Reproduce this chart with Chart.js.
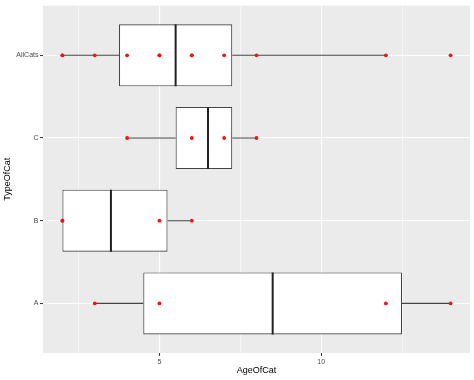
<!DOCTYPE html>
<html>
<head>
<meta charset="utf-8">
<script src="https://cdn.jsdelivr.net/npm/chart.js@4"></script>
<style>
  html, body { margin: 0; padding: 0; background: #ffffff; }
  canvas { display: block; }
</style>
</head>
<body>
<canvas id="c" width="474" height="380"></canvas>
<script>
// ---- data ----
const categories = ['A', 'B', 'C', 'AllCats'];          // bottom to top
const valuesA = [3, 5, 12, 14];
const valuesB = [2, 2, 5, 6];
const valuesC = [4, 6, 7, 8];
const valuesAll = [3, 5, 12, 14, 2, 2, 5, 6, 4, 6, 7, 8];
const xTicksMajor = [5, 10];
const xTicksMinor = [2.5, 7.5, 12.5];
const xMin = 1.4, xMax = 14.6;

const groups = [valuesA, valuesB, valuesC, valuesAll];

// ---- boxplot statistics (R type-7 quantiles, 1.5 IQR whiskers) ----
function quantile(sorted, p) {
  const h = (sorted.length - 1) * p;
  const lo = Math.floor(h), hi = Math.ceil(h);
  return sorted[lo] + (h - lo) * (sorted[hi] - sorted[lo]);
}
function stats(vals) {
  const s = vals.slice().sort((a, b) => a - b);
  const q1 = quantile(s, 0.25), med = quantile(s, 0.5), q3 = quantile(s, 0.75);
  const iqr = q3 - q1;
  const lo = Math.min(...s.filter(v => v >= q1 - 1.5 * iqr));
  const hi = Math.max(...s.filter(v => v <= q3 + 1.5 * iqr));
  return { q1, med, q3, lo, hi };
}
const st = groups.map(stats);
const halfBox = 0.375;

const boxData = st.map((s, i) => ({ x: [s.q1, s.q3], y: i + 1 }));
const medianData = [];
st.forEach((s, i) => {
  medianData.push({ x: s.med, y: i + 1 - halfBox }, { x: s.med, y: i + 1 + halfBox }, { x: null, y: null });
});
const whiskerData = [];
st.forEach((s, i) => {
  whiskerData.push({ x: s.lo, y: i + 1 }, { x: s.q1, y: i + 1 }, { x: null, y: null });
  whiskerData.push({ x: s.q3, y: i + 1 }, { x: s.hi, y: i + 1 }, { x: null, y: null });
});
const pointData = [];
groups.forEach((g, i) => g.forEach(v => pointData.push({ x: v, y: i + 1 })));

const panelBg = {
  id: 'panelBg',
  beforeDraw(chart) {
    const { ctx, chartArea: a } = chart;
    ctx.save();
    ctx.fillStyle = '#EBEBEB';
    ctx.fillRect(a.left, a.top, a.right - a.left, a.bottom - a.top);
    ctx.restore();
  }
};

const isMajorX = v => xTicksMajor.includes(v);

new Chart(document.getElementById('c'), {
  type: 'scatter',
  data: {
    datasets: [
      {
        type: 'scatter',
        data: pointData,
        backgroundColor: '#F01515',
        borderWidth: 0,
        pointRadius: 1.9,
        pointHoverRadius: 1.9,
        order: 0
      },
      {
        type: 'line',
        data: medianData,
        borderColor: '#222222',
        borderWidth: 2,
        pointRadius: 0,
        spanGaps: false,
        order: 1
      },
      {
        type: 'bar',
        indexAxis: 'y',
        data: boxData,
        backgroundColor: '#FFFFFF',
        borderColor: '#444444',
        borderWidth: 1.1,
        borderSkipped: false,
        categoryPercentage: 0.75,
        barPercentage: 1,
        order: 2
      },
      {
        type: 'line',
        data: whiskerData,
        borderColor: '#444444',
        borderWidth: 1.1,
        pointRadius: 0,
        spanGaps: false,
        order: 3
      }
    ]
  },
  options: {
    responsive: false,
    animation: false,
    events: [],
    layout: { padding: { top: 4, right: 4, left: 0, bottom: 0 } },
    plugins: { legend: { display: false }, tooltip: { enabled: false } },
    scales: {
      x: {
        type: 'linear',
        position: 'bottom',
        min: xMin,
        max: xMax,
        offset: false,
        afterBuildTicks(scale) {
          scale.ticks = xTicksMinor.concat(xTicksMajor).sort((a, b) => a - b).map(v => ({ value: v }));
        },
        afterFit(scale) { scale.height = 27; },
        ticks: {
          callback: v => (isMajorX(v) ? String(v) : ''),
          color: '#4D4D4D',
          font: { family: 'Liberation Sans', size: 7 },
          padding: 1.5,
          maxRotation: 0,
          autoSkip: false
        },
        grid: {
          offset: false,
          color: '#FFFFFF',
          lineWidth: ctx => (ctx.tick && isMajorX(ctx.tick.value) ? 1.1 : 0.55),
          tickColor: ctx => (ctx.tick && isMajorX(ctx.tick.value) ? '#333333' : 'rgba(0,0,0,0)'),
          tickLength: 3,
          tickWidth: 1,
          drawTicks: true
        },
        border: { display: false },
        title: {
          display: true,
          text: 'AgeOfCat',
          color: '#000000',
          font: { family: 'Liberation Sans', size: 9 },
          padding: { top: 0, bottom: 4 }
        }
      },
      y: {
        type: 'linear',
        position: 'left',
        min: 0.4,
        max: 4.6,
        offset: false,
        afterBuildTicks(scale) {
          scale.ticks = categories.map((c, i) => ({ value: i + 1 }));
        },
        afterFit(scale) { scale.width = 43; },
        ticks: {
          callback: v => categories[Math.round(v) - 1] || '',
          color: '#4D4D4D',
          font: { family: 'Liberation Sans', size: 7 },
          padding: 1.5,
          autoSkip: false
        },
        grid: {
          offset: false,
          color: '#FFFFFF',
          lineWidth: 1.1,
          tickColor: '#333333',
          tickLength: 3,
          tickWidth: 1,
          drawTicks: true
        },
        border: { display: false },
        title: {
          display: true,
          text: 'TypeOfCat',
          color: '#000000',
          font: { family: 'Liberation Sans', size: 9 },
          padding: { top: 2, bottom: 0 }
        }
      }
    }
  },
  plugins: [panelBg]
});
</script>
</body>
</html>
